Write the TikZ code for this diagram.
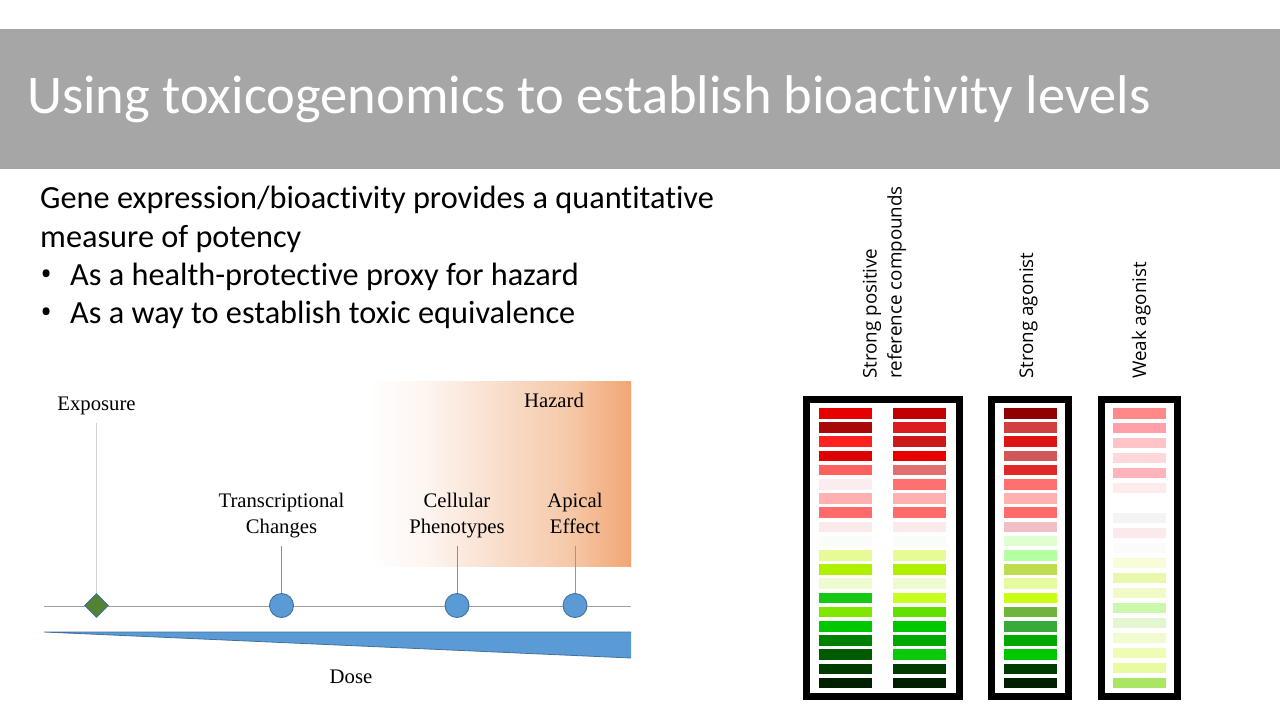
\documentclass[tikz,border=0pt]{standalone}
\usepackage{fontspec}
\setmainfont{Carlito}[RawFeature=-liga]
\newfontfamily\serifface{Liberation Serif}
\newfontfamily\labelface{Open Sans}
\usetikzlibrary{shapes.geometric,positioning}
\definecolor{bandgray}{HTML}{A6A6A6}
\definecolor{dotblue}{HTML}{5B9BD5}
\definecolor{dotedge}{HTML}{41719C}
\definecolor{diamondgreen}{HTML}{548235}
\definecolor{axisgray}{HTML}{A0A0A0}
\definecolor{hazardA}{HTML}{FDF4EE}
\definecolor{hazardB}{HTML}{F9DDCB}
\definecolor{hazardC}{HTML}{F6C8A8}
\definecolor{hazardD}{HTML}{F1A673}
\pgfdeclarehorizontalshading{hazardshade}{100bp}{color(0bp)=(white); color(25bp)=(white); color(36.5bp)=(hazardA); color(49.9bp)=(hazardB); color(63.3bp)=(hazardC); color(75bp)=(hazardD); color(100bp)=(hazardD)}
\tikzset{
	stemline/.style = {draw=dotblue, line width=0.8pt},
	dotnode/.style = {circle, draw=dotedge, fill=dotblue, line width=0.9pt, minimum size=24pt, inner sep=0pt},
	tlabel/.style = {font=\fontsize{20.7}{25.6}\selectfont\serifface, align=center, inner sep=0pt},
	bodytext/.style = {font=\fontsize{32.3}{38.5}\selectfont, anchor=base west, inner sep=0pt},
	collabel/.style = {font=\fontsize{18.8}{25}\selectfont\labelface, rotate=90, anchor=west, align=left, inner sep=0pt},
	framebox/.style = {rectangle, draw=black, line width=7pt, fill=white, anchor=north west, inner sep=0pt},
	heatbar/.style = {rectangle, fill=barcol, minimum width=53pt, minimum height=10.6pt, inner sep=0pt, anchor=north west}
}
\begin{document}
\begin{tikzpicture}[x=1pt,y=-1pt]
	\useasboundingbox (0,0) rectangle (1280,720);
	\fill[white] (0,0) rectangle (1280,720);

	% title band
	\fill[bandgray] (0,29) rectangle (1280,169);
	\node[font=\fontsize{54.5}{60}\selectfont, text=white, anchor=base west, inner sep=0pt] (title) at (27,113) {Using toxicogenomics to establish bioactivity levels};

	% text block
	\node[bodytext] (intro1) at (40,208.5) {Gene expression/bioactivity provides a quantitative};
	\node[bodytext] (intro2) at (40,247) {measure of potency};
	\node[bodytext] (dot1) at (40,285) {\labelface\textbullet};
	\node[bodytext] (point1) at (70,285) {As a health-protective proxy for hazard};
	\node[bodytext] (dot2) at (40,323.5) {\labelface\textbullet};
	\node[bodytext] (point2) at (70,323.5) {As a way to establish toxic equivalence};

	% hazard gradient
	\shade[shading=hazardshade] (370,381) rectangle (631,566);
	\node[tlabel] (hazard) at (554,402) {Hazard\strut};

	% timeline
	\coordinate (axisL) at (44,606);
	\coordinate (axisR) at (631,606);
	\draw[axisgray, line width=0.9pt] (axisL) -- (axisR);

	\node[diamond, draw=dotedge, fill=diamondgreen, line width=0.9pt, minimum size=24pt, inner sep=0pt] (mexposure) at (96.5,605.5) {};
	\node[dotnode] (mtrans) at (281.5,605.5) {};
	\node[dotnode] (mcell) at (457,605.5) {};
	\node[dotnode] (mapical) at (575,605.5) {};

	\node[tlabel] (exposure) at (96.5,405) {Exposure\strut};
	\node[tlabel] (trans) at (281.5,515.5) {Transcriptional\strut\\Changes\strut};
	\node[tlabel] (cell) at (457,515.5) {Cellular\strut\\Phenotypes\strut};
	\node[tlabel] (apical) at (575,515.5) {Apical\strut\\Effect\strut};

	\draw[gray!35, line width=1.5pt, shorten <=4.5pt] (exposure) -- (mexposure);
	\draw[stemline, shorten <=4.5pt] (trans) -- (mtrans);
	\draw[stemline, shorten <=4.5pt] (cell) -- (mcell);
	\draw[gray!80, line width=0.8pt, shorten <=4.5pt] (apical) -- (mapical);

	% dose wedge
	\coordinate (wedgeA) at (44,632);
	\coordinate (wedgeB) at (631,632);
	\coordinate (wedgeC) at (631,658);
	\fill[dotblue] (wedgeA) -- (wedgeB) -- (wedgeC) -- cycle;
	\draw[dotedge, line width=0.8pt] (wedgeC) -- (wedgeA) -- (wedgeB);
	\node[tlabel] (dose) at (351,678) {Dose\strut};

	% heat map frames
	\node[framebox, minimum width=152.5pt, minimum height=296.5pt] (frameA) at (803,396) {};
	\node[framebox, minimum width=76.5pt, minimum height=296.5pt] (frameB) at (988.3,396) {};
	\node[framebox, minimum width=76.5pt, minimum height=296.5pt] (frameC) at (1097.7,396) {};

	\node[collabel] (labelA) at (884.2,379) {Strong positive\strut\\reference compounds\strut};
	\node[collabel] (labelB) at (1028,379) {Strong agonist\strut};
	\node[collabel] (labelC) at (1141,379) {Weak agonist\strut};

	% heat map columns
	\foreach \c [count=\i from 0] in {E60000,A80808,FF2020,DD0000,FF6060,FBEDED,FFB0B0,FF6A6A,FAEAEA,FAFCFA,E6FA96,AFF000,EEFBCF,14C814,80E800,00C800,008000,005A00,003C00,001E00} {
		\definecolor{barcol}{HTML}{\c}
		\node[heatbar] (barA\i) at (819,407.7+14.2*\i) {};
	}
	\foreach \c [count=\i from 0] in {C00000,DC1C1C,CC1818,E60000,E07070,FF7070,FFB0B0,FF6A6A,FAEAEA,FAFCFA,E6FA96,AFF000,EEFBCF,C8FF1E,64E000,00C800,00A800,0AC80A,003C00,001E00} {
		\definecolor{barcol}{HTML}{\c}
		\node[heatbar] (barB\i) at (893,407.7+14.2*\i) {};
	}
	\foreach \c [count=\i from 0] in {900000,D04040,DC1414,D05858,E02828,FF7070,FFB0B0,FF6A6A,F0C0C4,E0FFD0,B4FFA0,BEDC50,E6FAA0,C8FF14,70B43C,38AA3C,00A800,00C800,003C00,001E00} {
		\definecolor{barcol}{HTML}{\c}
		\node[heatbar] (barC\i) at (1003.3,407.7+14.2*\i) {};
	}
	\foreach \c [count=\i from 0] in {FF8888,FFA0A8,FFC4C8,FFD8DC,FFB4BC,FDEBEB,FFFFFF,F4F4F4,FBEAEC,FBFBFB,F6FDD8,E8F8AC,F0FBC8,CCF8AC,E4F6D0,F0FBD0,EEFCB4,E8FBA0,AAE664} {
		\definecolor{barcol}{HTML}{\c}
		\node[heatbar] (barD\i) at (1112.7,407.7+14.98*\i) {};
	}
\end{tikzpicture}
\end{document}
